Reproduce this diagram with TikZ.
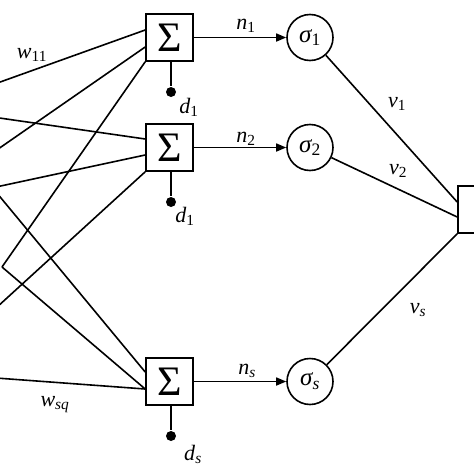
\documentclass[tikz,border=0pt]{standalone}
\usepackage{fontspec}
\setmainfont{Liberation Serif}
\usetikzlibrary{arrows.meta}
\newcommand\sublab[2]{\textit{#1}\textsubscript{#2}}
\begin{document}
\begin{tikzpicture}[x=1pt,y=-1pt, line width=1.6pt,
 sumbox/.style={draw, minimum size=47pt, inner sep=0pt, font=\fontsize{42}{42}\selectfont},
 act/.style={draw, circle, minimum size=46pt, inner sep=0pt, font=\fontsize{25}{25}\selectfont\itshape},
 lbl/.style={font=\fontsize{22}{22}\selectfont, inner sep=0pt},
 biasdot/.style={circle, fill, minimum size=10pt, inner sep=0pt},
 arr/.style={-{Triangle[length=10pt,width=8pt]}}]
\useasboundingbox (0,0) rectangle (474,474);
\clip (0,0) rectangle (474,474);
% summation boxes
\node[sumbox] (S1) at (169.5,37.5) {Σ};
\node[sumbox] (S2) at (169.5,147.5) {Σ};
\node[sumbox] (Ss) at (169.5,381.5) {Σ};
% activation circles
\node[act] (C1) at (310,37.5) {σ\textsubscript{\textup{1}}};
\node[act] (C2) at (310,147.5) {σ\textsubscript{\textup{2}}};
\node[act] (Cs) at (310,381.5) {σ\textsubscript{\textit{s}}};
% output box
\node[sumbox] (O) at (481.5,209.5) {};
% bias dots
\node[biasdot] (b1) at (171,92) {};
\node[biasdot] (b2) at (171,202) {};
\node[biasdot] (bs) at (171,436) {};
\draw (S1.south -| b1) -- (b1);
\draw (S2.south -| b2) -- (b2);
\draw (Ss.south -| bs) -- (bs);
% input ends (cut off at left edge)
\coordinate (i1) at (-4,83.5);
\coordinate (i2) at (-4,117.5);
\coordinate (i3) at (-4,150.5);
\coordinate (i4) at (-4,187);
\coordinate (i5) at (-4,192);
\coordinate (i6) at (2,267);
\coordinate (i7) at (-4,308);
\coordinate (i8) at (-4,378);
\draw (i1) -- ([yshift=7.5pt]S1.west);
\draw (i3) -- ([yshift=-9.5pt]S1.west);
\draw (i6) -- (S1.south west);
\draw (i2) -- ([yshift=8.5pt]S2.west);
\draw (i4) -- ([yshift=-7.5pt]S2.west);
\draw (i7) -- (S2.south west);
\draw (i5) -- ([yshift=9.5pt]Ss.west);
\draw (i6) -- ([yshift=-7.5pt]Ss.west);
\draw (i8) -- ([yshift=-7.5pt]Ss.west);
% outputs of sums
\draw[arr] (S1) -- (C1);
\draw[arr] (S2) -- (C2);
\draw[arr] (Ss) -- (Cs);
% to output
\draw (C1) -- ([yshift=7.5pt]O.west);
\draw (C2) -- ([yshift=-7.5pt]O.west);
\draw (Cs) -- (O.south west);
% labels
\node[lbl] (lw11) at (32,55) {\sublab{w}{11}};
\node[lbl] (lwsq) at (55,405) {\sublab{w}{\textit{sq}}};
\node[lbl] (ld1) at (189,107) {\sublab{d}{1}};
\node[lbl] (ld2) at (185,216) {\sublab{d}{1}};
\node[lbl] (lds) at (193,454) {\sublab{d}{\textit{s}}};
\node[lbl] (ln1) at (246,26) {\sublab{n}{1}};
\node[lbl] (ln2) at (246,139) {\sublab{n}{2}};
\node[lbl] (lns) at (247,371) {\sublab{n}{\textit{s}}};
\node[lbl] (lv1) at (397,104) {\sublab{v}{1}};
\node[lbl] (lv2) at (398,171) {\sublab{v}{2}};
\node[lbl] (lvs) at (418,310) {\sublab{v}{\textit{s}}};
\end{tikzpicture}
\end{document}
